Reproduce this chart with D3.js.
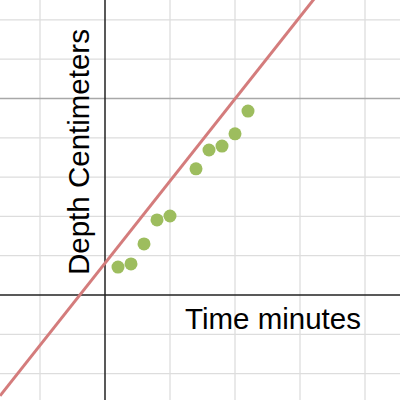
<!DOCTYPE html>
<html><head><meta charset="utf-8">
<script src="https://cdn.jsdelivr.net/npm/d3@7"></script>
<style>body{margin:0;background:#fff}</style></head>
<body><svg id="c" width="400" height="400"></svg>
<script>
// data
const timeX = [0.2, 0.4, 0.6, 0.8, 1.0, 1.4, 1.6, 1.8, 2.0, 2.2];
const depthY = [0.71, 0.79, 1.30, 1.91, 2.01, 3.21, 3.69, 3.79, 4.10, 4.68];
const fitIntercept = 0.81;
const fitSlope = 2.09;

const svg = d3.select("#c");
// origin at (105,295): 65px per x unit, 39.3px per y unit
const x = d3.scaleLinear().domain([-105/65, 295/65]).range([0, 400]);
const y = d3.scaleLinear().domain([-105/39.3, 295/39.3]).range([400, 0]);

// grid
const xt = d3.range(-1, 5).filter(v => v != 0);
const yt = d3.range(-2, 8).filter(v => v != 0);
svg.selectAll(".gx").data(xt).enter().append("line")
  .attr("x1", d => x(d)).attr("x2", d => x(d)).attr("y1", 0).attr("y2", 400)
  .style("stroke", "#ddd").style("stroke-width", 1.3);
svg.selectAll(".gy").data(yt).enter().append("line")
  .attr("y1", d => y(d)).attr("y2", d => y(d)).attr("x1", 0).attr("x2", 400)
  .style("stroke", d => d % 5 == 0 ? "#a8a8a8" : "#ddd").style("stroke-width", 1.3);

// axes
svg.append("line").attr("x1", x(0)).attr("x2", x(0)).attr("y1", 0).attr("y2", 400)
  .style("stroke", "#222").style("stroke-width", 1.5);
svg.append("line").attr("y1", y(0)).attr("y2", y(0)).attr("x1", 0).attr("x2", 400)
  .style("stroke", "#222").style("stroke-width", 1.5);

// fit line
const x0 = x.domain()[0], x1 = x.domain()[1];
svg.append("line")
  .attr("x1", x(x0)).attr("y1", y(fitIntercept + fitSlope * x0))
  .attr("x2", x(x1)).attr("y2", y(fitIntercept + fitSlope * x1))
  .style("stroke", "#d47c7c").style("stroke-width", 3);

// points
svg.selectAll(".pt").data(timeX).enter().append("circle")
  .attr("cx", d => x(d)).attr("cy", (d, i) => y(depthY[i])).attr("r", 6.5)
  .style("fill", "#9dbd5e");

// labels
svg.append("text").attr("x", 185).attr("y", 329)
  .style("font-family", "Liberation Sans, Arial").style("font-size", "29.5px")
  .text("Time minutes");
svg.append("text").attr("transform", "translate(89,275) rotate(-90)")
  .style("font-family", "Liberation Sans, Arial").style("font-size", "29.5px")
  .text("Depth Centimeters");
</script></body></html>
